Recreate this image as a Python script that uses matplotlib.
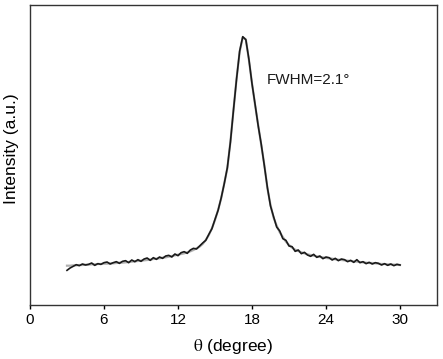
import matplotlib

matplotlib.use("Agg")
import matplotlib.pyplot as plt

plt.rcParams["font.family"] = ["Liberation Sans", "DejaVu Sans"]
plt.rcParams["mathtext.fontset"] = "stix"

# scan angle, degrees (0.25 step)
theta = [3.0 + 0.25 * i for i in range(109)]

# smooth fitted profile (gray)
fit = [
    118, 118, 119, 119, 120, 120, 121, 121, 122, 122, 123, 123,
    124, 124, 125, 125, 126, 127, 127, 128, 129, 130, 131, 132,
    133, 134, 135, 136, 138, 139, 140, 142, 143, 145, 147, 149,
    151, 153, 155, 158, 161, 165, 170, 175, 183, 195, 210, 230,
    255, 285, 320, 365, 410, 490, 585, 680, 760, 803, 797, 735,
    665, 600, 540, 480, 420, 350, 300, 262, 238, 218, 204, 190,
    180, 172, 166, 162, 158, 155, 152, 150, 148, 146, 144, 143,
    141, 140, 139, 137, 136, 135, 134, 133, 132, 131, 130, 129,
    128, 127, 126, 126, 125, 124, 123, 123, 122, 122, 121, 121,
    120,
]

# measured intensity (black)
measured = [
    104, 111, 116, 121, 118, 123, 120, 122, 126, 119, 124, 122,
    127, 129, 123, 127, 130, 125, 131, 133, 127, 135, 130, 136,
    131, 138, 141, 134, 142, 137, 144, 140, 147, 149, 144, 153,
    148, 157, 160, 155, 165, 170, 168, 177, 186, 194, 212, 229,
    257, 284, 321, 364, 412, 489, 586, 679, 762, 805, 796, 737,
    664, 602, 538, 482, 418, 352, 297, 265, 234, 222, 199, 194,
    177, 175, 161, 165, 154, 158, 150, 146, 152, 143, 147, 139,
    144, 142, 135, 140, 133, 138, 136, 130, 134, 128, 136, 127,
    130, 124, 128, 123, 127, 125, 120, 124, 119, 123, 118, 122,
    120,
]

fig = plt.figure(figsize=(4.43, 3.59), dpi=100)
ax = fig.add_axes([0.0677, 0.1504, 0.9188, 0.8356])

ax.plot(theta, fit, color="#b0b0b0", linewidth=1.6, zorder=2)
ax.plot(theta, measured, color="#1a1a1a", linewidth=1.2, zorder=3)

ax.text(19.2, 675, "FWHM=2.1°", fontsize=11, va="center", ha="left", color="#1a1a1a")

ax.set_xlim(0, 33)
ax.set_ylim(0, 900)
ax.set_xticks([0, 6, 12, 18, 24, 30])
ax.set_yticks([])
ax.tick_params(axis="x", direction="out", length=3, width=1, labelsize=11, pad=3)
for spine in ax.spines.values():
    spine.set_linewidth(1.0)
    spine.set_color("#333333")

ax.set_xlabel(r"$\mathrm{\theta}$ (degree)", fontsize=12.5)
ax.set_ylabel("Intensity (a.u.)", fontsize=12.5)
ax.xaxis.set_label_coords(0.5, -0.108)
ax.yaxis.set_label_coords(-0.027, 0.52)

fig.savefig("out.png", dpi=100)
